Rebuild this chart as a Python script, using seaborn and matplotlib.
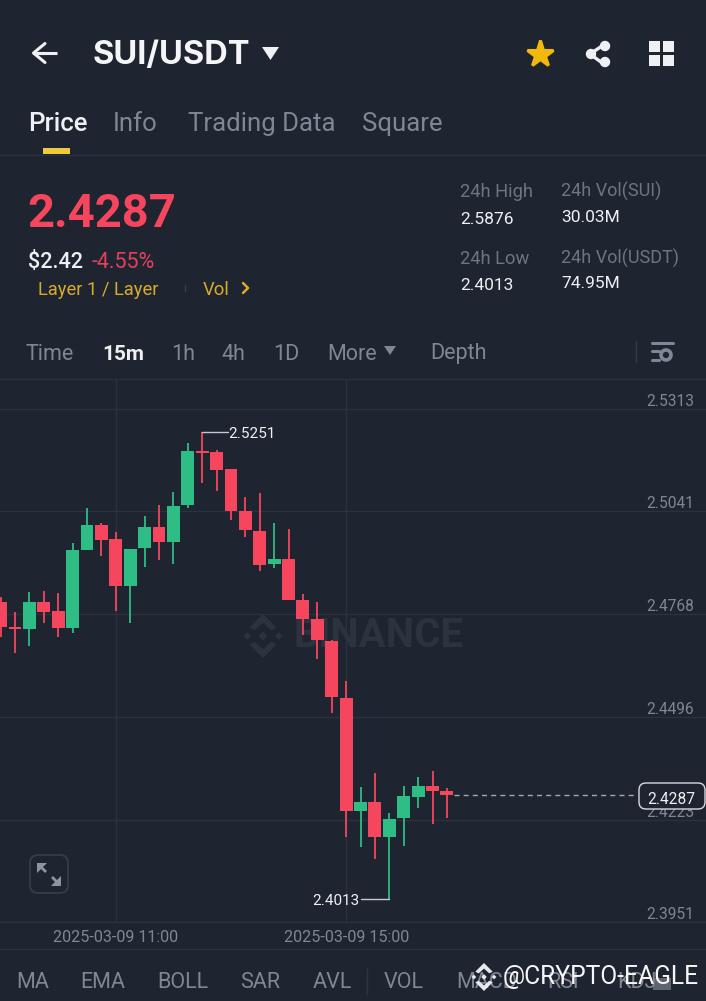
#!/usr/bin/env python3
"""Recreates the SUI/USDT 15m candlestick screen."""
import matplotlib

matplotlib.use("Agg")
import matplotlib.pyplot as plt
import numpy as np
import pandas as pd
import seaborn as sns
from matplotlib.patches import Circle, FancyBboxPatch, Polygon, Rectangle

BG = "#1e2530"
GRID = "#2b323d"
UP = "#2ebd85"
DOWN = "#f6465d"
GREY = "#7f8794"
DIM = "#6d7583"
WHITE = "#eef0f3"
YELLOW = "#d9ab2a"
MARK = "#2c333e"

opens = [2.4801, 2.4735, 2.4728, 2.4801, 2.4777, 2.4731, 2.4939, 2.5005, 2.4967, 2.4843, 2.4943, 2.5000,
         2.4960, 2.5058, 2.5202, 2.5198, 2.5153, 2.5043, 2.4989, 2.4901, 2.4915, 2.4805, 2.4755, 2.4698,
         2.4545, 2.4247, 2.4270, 2.4177, 2.4227, 2.4284, 2.4312, 2.4299]
highs = [2.4815, 2.4775, 2.4826, 2.4831, 2.4824, 2.4956, 2.5050, 2.5010, 2.4987, 2.4942, 2.5030, 2.5058,
         2.5093, 2.5222, 2.5251, 2.5204, 2.5153, 2.5080, 2.5091, 2.5010, 2.4995, 2.4821, 2.4800, 2.4700,
         2.4592, 2.4310, 2.4347, 2.4241, 2.4313, 2.4335, 2.4352, 2.4306]
lows = [2.4709, 2.4666, 2.4684, 2.4744, 2.4707, 2.4719, 2.4939, 2.4923, 2.4777, 2.4744, 2.4894, 2.4912,
        2.4902, 2.5051, 2.5116, 2.5096, 2.5018, 2.4972, 2.4883, 2.4892, 2.4805, 2.4713, 2.4649, 2.4507,
        2.4176, 2.4149, 2.4118, 2.4013, 2.4153, 2.4255, 2.4210, 2.4226]
closes = [2.4735, 2.4730, 2.4801, 2.4775, 2.4731, 2.4938, 2.5005, 2.4965, 2.4843, 2.4942, 2.5001, 2.4959,
          2.5056, 2.5201, 2.5195, 2.5151, 2.5041, 2.4991, 2.4898, 2.4914, 2.4805, 2.4755, 2.4700, 2.4548,
          2.4247, 2.4270, 2.4178, 2.4225, 2.4285, 2.4313, 2.4299, 2.4287]

price_ticks = [2.5313, 2.5041, 2.4768, 2.4496, 2.4223, 2.3951]
time_positions = [8, 24]
time_labels = ["2025-03-09 11:00", "2025-03-09 15:00"]

last_price = 2.4287
high_mark = 2.5251
low_mark = 2.4013

tabs = [("Price", 28, WHITE), ("Info", 113, GREY), ("Trading Data", 188, GREY), ("Square", 362, GREY)]
periods = [("Time", 26), ("15m", 102), ("1h", 171), ("4h", 221), ("1D", 273), ("More", 327), ("Depth", 430)]
indicators = [("MA", 16), ("EMA", 80), ("BOLL", 157), ("SAR", 240), ("AVL", 313), ("VOL", 384),
              ("MACD", 456), ("RSI", 547), ("KDJ", 617)]

sns.set_theme(style="dark", rc={"figure.facecolor": BG, "axes.facecolor": BG, "savefig.facecolor": BG})
plt.rcParams["font.family"] = ["Roboto", "DejaVu Sans"]

df = pd.DataFrame({"i": range(len(opens)), "open": opens, "high": highs, "low": lows, "close": closes})
df["side"] = np.where(df["close"] >= df["open"], "up", "down")
df["base"] = df[["open", "close"]].min(axis=1)
df["height"] = (df["close"] - df["open"]).abs()

fig = plt.figure(figsize=(7.06, 10.01), dpi=100)


def overlay(z):
    # full-figure axes in screen pixels, for the app chrome around the chart
    o = fig.add_axes([0, 0, 1, 1], zorder=z)
    o.set_xlim(0, 706)
    o.set_ylim(1001, 0)
    o.axis("off")
    o.patch.set_alpha(0)
    return o


back = overlay(0)
ax = fig.add_axes([0, 79 / 1001, 1, 543 / 1001], zorder=1)
ax.patch.set_alpha(0)
front = overlay(2)

# candles
for side, color in [("up", UP), ("down", DOWN)]:
    sub = df[df["side"] == side]
    sns.barplot(x=sub["i"].to_numpy(), y=sub["height"].to_numpy(), bottom=sub["base"].to_numpy(), color=color,
                width=0.9, native_scale=True, errorbar=None, saturation=1, linewidth=0, ax=ax)
wicks = df.melt(id_vars=["i", "side"], value_vars=["high", "low"], value_name="price")
sns.lineplot(data=wicks, x="i", y="price", units="i", estimator=None, hue="side", palette={"up": UP, "down": DOWN},
             legend=False, linewidth=1.3, solid_capstyle="butt", ax=ax)

# price line and high/low callouts
ax.plot([31.5, 44.2], [last_price, last_price], color="#a4a9b1", lw=1, dashes=(3.6, 3))
ax.plot([14, 15.8], [high_mark, high_mark], color="#c6c9ce", lw=1)
ax.plot([25, 27], [low_mark, low_mark], color="#c6c9ce", lw=1)
ax.annotate(f"{high_mark:.4f}", (15.8, high_mark), xytext=(0, -1.5), textcoords="offset points", color=WHITE,
            fontsize=11, va="center", ha="left")
ax.annotate(f"{low_mark:.4f}", (25, low_mark), xytext=(-1, -1.5), textcoords="offset points", color=WHITE,
            fontsize=11, va="center", ha="right")

ax.set_xlim(-0.042, 48.99)
ax.set_ylim(2.3951, 2.53927)
ax.set_xlabel("")
ax.set_ylabel("")
ax.set_xticks(time_positions, time_labels)
ax.yaxis.tick_right()
ax.set_yticks(price_ticks, [f"{p:.4f}" for p in price_ticks])
ax.tick_params(axis="x", length=0, pad=6, labelsize=11.6, labelcolor=GREY)
ax.tick_params(axis="y", length=0, pad=-43, labelsize=11.2, labelcolor=GREY)
for t in ax.get_yticklabels():
    t.set_verticalalignment("bottom")
ax.grid(True, color=GRID, lw=1)
ax.set_axisbelow(True)
for s in ["left", "right"]:
    ax.spines[s].set_visible(False)
for s in ["top", "bottom"]:
    ax.spines[s].set_color(GRID)
    ax.spines[s].set_linewidth(1)


def logo(o, cx, cy, r, color):
    def diamond(x, y, h):
        o.add_patch(Polygon([(x, y - h), (x + h, y), (x, y + h), (x - h, y)], color=color, lw=0))

    diamond(cx, cy, 0.2 * r)
    diamond(cx - 0.72 * r, cy, 0.17 * r)
    diamond(cx + 0.72 * r, cy, 0.17 * r)
    for d in (-1, 1):
        pts = [(0, 1), (0.62, 0.38), (0.38, 0.26), (0, 0.6), (-0.38, 0.26), (-0.62, 0.38)]
        o.add_patch(Polygon([(cx + r * a, cy + d * r * b) for a, b in pts], color=color, lw=0))


def label(x, y, s, size, color=GREY, weight="normal", o=back, ha="left", **kw):
    # va=center sits about 2px high for this font
    o.text(x, y + 2, s, fontsize=size, color=color, fontweight=weight, ha=ha, va="center", **kw)


# watermark behind the candles
logo(back, 263, 636, 22, MARK)
label(293, 634, "BINANCE", 29, MARK, "bold")

# expand button
back.add_patch(FancyBboxPatch((30, 855), 38, 38, boxstyle="round,pad=0,rounding_size=8", fc="none", ec="#363d49", lw=1.3))
back.add_patch(Polygon([(37, 863), (47, 863), (37, 873)], color="#8d94a0", lw=0))
back.add_patch(Polygon([(61, 886), (51, 886), (61, 876)], color="#8d94a0", lw=0))
back.plot([41, 46], [867, 872], color="#8d94a0", lw=2, solid_capstyle="butt")
back.plot([57, 52], [882, 877], color="#8d94a0", lw=2, solid_capstyle="butt")

# header
back.plot([57, 34, 46], [53, 53, 53], color=WHITE, lw=2.2, solid_capstyle="butt")
back.plot([45, 33.5, 45], [43.5, 53, 62.5], color=WHITE, lw=2.2)
label(93, 54, "SUI/USDT", 23.5, "#f4f5f7", "bold", family=["Inter", "DejaVu Sans"])
back.add_patch(Polygon([(262, 47), (279, 47), (270.5, 60)], color=WHITE, lw=0))
back.plot([539.5], [54], marker="*", ms=20, color="#f0b90b", mec="#f0b90b", mew=2.2)
back.plot([605, 590, 605], [44, 54, 65], color=WHITE, lw=2.4)
for cx, cy in [(605, 46), (591, 54), (605, 62)]:
    back.add_patch(Circle((cx, cy), 5.2, color=WHITE, lw=0))
for gx, gy in [(649, 41), (663, 41), (649, 55), (663, 55)]:
    back.add_patch(Rectangle((gx, gy), 11, 11, color=WHITE, lw=0))

for name, x, color in tabs:
    label(x, 122, name, 18.5, color, "medium" if name == "Price" else "normal")
back.add_patch(Rectangle((43, 148), 27, 6, color="#f0c93c", lw=0))
back.plot([0, 706], [155, 155], color=GRID, lw=1)

# price block
label(27, 212, "2.4287", 34, DOWN, "bold")
label(28, 260, "$2.42", 15.5, WHITE, "medium")
label(92, 260, "-4.55%", 15.5, "#e4405b")
label(38, 288, "Layer 1 / Layer", 13.2, YELLOW)
back.plot([185, 185], [285, 291], color="#3a414d", lw=1)
label(203, 288, "Vol", 13.2, YELLOW)
back.plot([243, 248, 243], [283, 288, 293], color=YELLOW, lw=1.8)

label(460, 190, "24h High", 13.2, DIM)
label(460, 217, "2.5876", 12.5, WHITE)
label(460, 257, "24h Low", 13.2, DIM)
label(460, 284, "2.4013", 12.5, WHITE)
label(561, 189, "24h Vol(SUI)", 13, DIM)
label(561, 215, "30.03M", 12.5, WHITE)
label(561, 256, "24h Vol(USDT)", 13, DIM)
label(561, 281, "74.95M", 12.5, WHITE)

# interval row
for name, x in periods:
    if name == "15m":
        label(x, 352, name, 15, WHITE, "bold")
    else:
        label(x, 352, name, 15.5, GREY)
back.add_patch(Polygon([(384, 346), (396, 346), (390, 355)], color=GREY, lw=0))
back.plot([636, 636], [341, 362], color="#343b47", lw=1)
back.plot([652, 673], [343, 343], color=GREY, lw=2.2)
back.plot([652, 659], [351, 351], color=GREY, lw=2.2)
back.plot([652, 659], [360, 360], color=GREY, lw=2.2)
back.add_patch(Circle((666, 355), 5, fc="none", ec=GREY, lw=2.6))

# bottom indicator row
back.plot([0, 706], [949, 949], color=GRID, lw=1)
back.plot([367, 367], [968, 994], color="#2f3641", lw=1)
for name, x in indicators:
    label(x, 980, name, 15.5, GREY)
back.add_patch(Rectangle((653, 978), 18, 12, color="#5e6470", lw=0))

# last price box sits over the axis labels, reposted watermark over the bottom row
front.add_patch(FancyBboxPatch((639, 783), 66, 26, boxstyle="round,pad=0,rounding_size=7", fc=BG, ec="#d8dade", lw=1))
label(647, 797, f"{last_price:.4f}", 11.2, WHITE, o=front)
logo(front, 484, 977, 14, "#e8e9ec")
label(503, 975, "@CRYPTO-EAGLE", 17.7, "#f6f6f6", o=front)

fig.savefig("out.png", dpi=100)
